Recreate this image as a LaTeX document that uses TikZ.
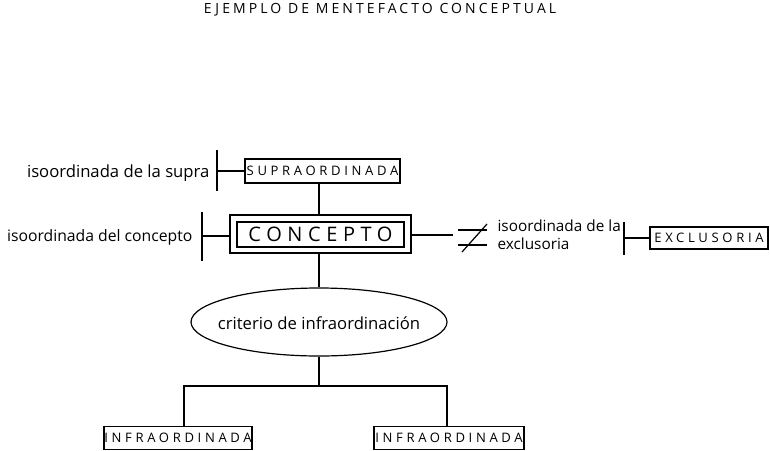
\documentclass[tikz,border=0pt]{standalone}
\usepackage{fontspec}
\usetikzlibrary{shapes.geometric}
\setmainfont{Open Sans}
\newfontfamily\spc[LetterSpace=28]{Open Sans}
\newfontfamily\spt[LetterSpace=22]{Open Sans}
\begin{document}
\begin{tikzpicture}[x=0.75pt,y=-0.75pt,line width=0.9pt,
  box/.style={draw,line width=0.9pt,inner sep=0pt,font=\spc\fontsize{9.8}{11}\selectfont},
  lbl/.style={inner sep=0pt,font=\fontsize{12.5}{15}\selectfont},
  ln/.style={line width=0.9pt}]
\useasboundingbox (0,0) rectangle (770,450);
\node[inner sep=0pt,font=\spt\fontsize{10.5}{12}\selectfont] (title) at (380,10) {EJEMPLO DE MENTEFACTO CONCEPTUAL};
% supra
\node[box,minimum width=155*0.75pt,minimum height=24*0.75pt] (supra) at (322.5,171) {SUPRAORDINADA};
\coordinate (sv1) at (217,150); \coordinate (sv2) at (217,191);
\draw[ln] (sv1) -- (sv2);
\draw[ln] (217,171) -- (supra.west);
\node[lbl,anchor=east] (isup) at (210,173) {isoordinada de la supra};
% concepto
\node[draw,line width=0.9pt,minimum width=181*0.75pt,minimum height=38*0.75pt] (cout) at (320.5,234) {};
\node[draw,line width=0.9pt,inner sep=0pt,minimum width=167*0.75pt,minimum height=25*0.75pt,font=\spc\fontsize{15}{17}\selectfont] (concepto) at (320.5,234.5) {CONCEPTO};
\draw[ln] (supra.south -| 319,0) -- (cout.north -| 319,0);
\coordinate (cv1) at (202,212); \coordinate (cv2) at (202,261);
\draw[ln] (cv1) -- (cv2);
\draw[ln] (202,236) -- (cout.west |- 0,236);
\node[lbl,anchor=east,font=\fontsize{11.8}{14}\selectfont] (icon) at (193,237) {isoordinada del concepto};
% exclusoria
\coordinate (ex1) at (453,235);
\draw[ln] (cout.east |- 0,235) -- (ex1);
\coordinate (ne1) at (458,230); \coordinate (ne2) at (487,230);
\coordinate (ne3) at (458,245); \coordinate (ne4) at (487,245);
\coordinate (ne5) at (462,252); \coordinate (ne6) at (487,224);
\draw[ln] (ne1) -- (ne2); \draw[ln] (ne3) -- (ne4); \draw[ln] (ne5) -- (ne6);
\node[lbl,anchor=west,align=left,font=\fontsize{11.5}{13.5}\selectfont] (iexc) at (497,235) {isoordinada de la\\exclusoria};
\node[box,minimum width=118*0.75pt,minimum height=22*0.75pt] (excl) at (709,238) {EXCLUSORIA};
\coordinate (ev1) at (624,222); \coordinate (ev2) at (624,255);
\draw[ln] (ev1) -- (ev2);
\draw[ln] (624,238) -- (excl.west);
% criterio
\node[draw,ellipse,line width=0.9pt,minimum width=256*0.75pt,minimum height=68*0.75pt,inner sep=0pt] (crit) at (319,322) {};
\node[lbl] (critt) at (319,323) {criterio de infraordinación};
\draw[ln] (cout.south -| 319,0) -- (crit.north);
% infra
\node[box,minimum width=148*0.75pt,minimum height=23*0.75pt] (inf1) at (178,438) {INFRAORDINADA};
\node[box,minimum width=150*0.75pt,minimum height=23*0.75pt] (inf2) at (449,438) {INFRAORDINADA};
\coordinate (j) at (319,386);
\draw[ln] (crit.south) -- (j);
\draw[ln] (inf1.north -| 184,0) |- (j) -| (inf2.north -| 447,0);
\end{tikzpicture}
\end{document}
